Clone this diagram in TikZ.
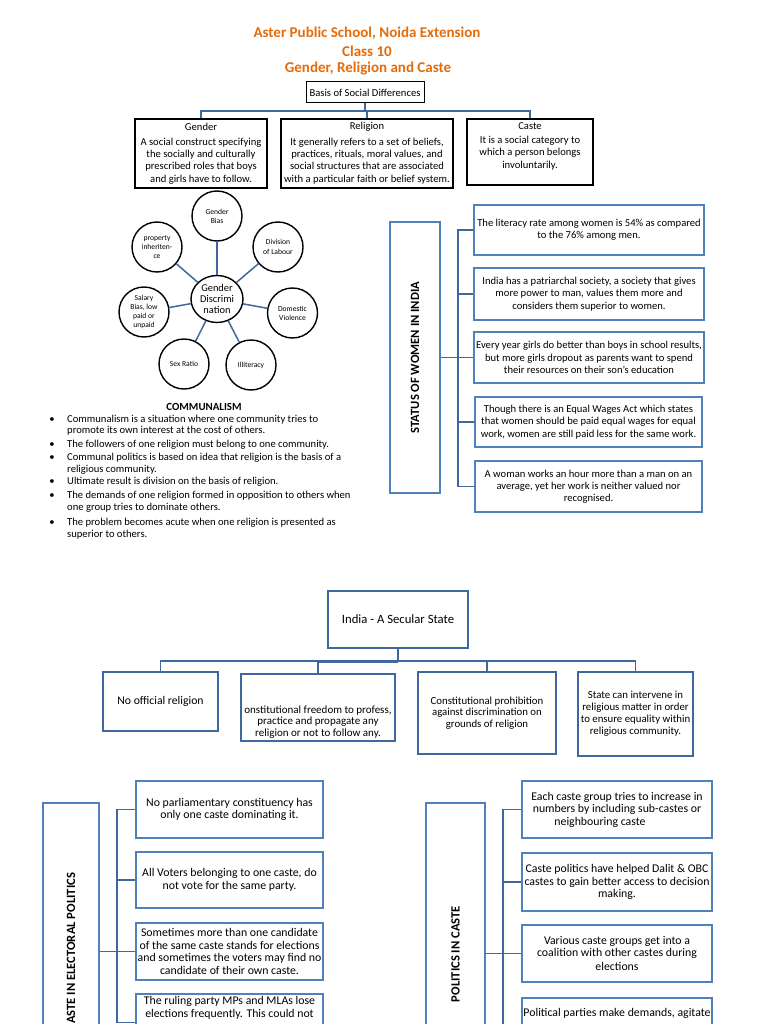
\documentclass[tikz,border=0pt]{standalone}
\usepackage{fontspec}
\setmainfont{Carlito}
\usetikzlibrary{shapes.geometric}
\definecolor{ttl}{RGB}{228,108,10}
\definecolor{bxb}{RGB}{79,129,189}
\definecolor{lnb}{RGB}{64,104,158}
\tikzset{
 ttlstyle/.style={font=\bfseries\fontsize{15}{18}\selectfont, text=ttl, inner sep=0pt},
 tx/.style={font=\fontsize{10.6}{12.2}\selectfont, align=center, inner sep=0pt},
 tbig/.style={font=\fontsize{11.8}{12.5}\selectfont, align=center, inner sep=0pt},
 blackbox/.style={draw=black, line width=1.6pt, inner sep=0pt, rectangle},
 bluebox/.style={draw=bxb, line width=1.6pt, inner sep=0pt, rectangle, align=center},
 darkbox/.style={draw=lnb, line width=1.6pt, inner sep=0pt, rectangle, align=center},
 conn/.style={draw=lnb, line width=1.5pt},
 circ/.style={circle, draw=black, line width=1.4pt, minimum size=50pt, inner sep=0pt, align=center, font=\fontsize{7.6}{9.2}\selectfont},
 vtitle/.style={rotate=90, font=\bfseries\fontsize{12.6}{14}\selectfont, inner sep=0pt},
 cline/.style={anchor=base west, font=\fontsize{10.6}{12.2}\selectfont, inner sep=0pt},
 bul/.style={anchor=base, font=\fontsize{10.6}{12.2}\selectfont, inner sep=0pt},
}
\begin{document}
\begin{tikzpicture}[x=1pt,y=-1pt]
\useasboundingbox (0,0) rectangle (768,1024);
\clip (0,0) rectangle (768,1024);
\fill[white] (0,0) rectangle (768,1024);

% titles
\node[ttlstyle] (t1) at (367,33) {Aster Public School, Noida Extension};
\node[ttlstyle] (t2) at (367,51) {Class 10};
\node[ttlstyle] (t3) at (368,69) {Gender, Religion and Caste};

% basis
\node[blackbox, line width=1pt, minimum width=118pt, minimum height=21pt, tx] (basis) at (365,92.5) {Basis of Social Differences};
\node[blackbox, minimum width=132pt, minimum height=69pt] (gbox) at (201,153.5) {};
\node[blackbox, minimum width=172pt, minimum height=69pt] (rbox) at (367,153.5) {};
\node[blackbox, minimum width=126pt, minimum height=66pt] (cbox) at (530,152) {};
\node[tx] (gboxh) at (201,127) {Gender};
\node[tx] (gboxt) at (201,161) {A social construct specifying\\the socially and culturally\\prescribed roles that boys\\and girls have to follow.};
\node[tx] (rboxh) at (367,127) {Religion};
\node[tx] (rboxt) at (367,161) {It generally refers to a set of beliefs,\\practices, rituals, moral values, and\\social structures that are associated\\with a particular faith or belief system.};
\node[tx] (cboxh) at (530,126) {Caste};
\node[tx] (cboxt) at (530,153) {It is a social category to\\which a person belongs\\involuntarily.};
\coordinate (hb) at (365,111);
\draw[conn] (basis.south) -- (basis.south |- hb);
\draw[conn] (gbox.north) |- (cbox.north |- hb) -- (cbox.north);
\draw[conn] (rbox.north) -- (rbox.north |- hb);

% gender discrimination
\node[circ, ellipse, minimum width=52pt, minimum height=47pt, font=\fontsize{10.4}{11.3}\selectfont] (gd) at (217,299) {Gender\\Discrimi\\nation};
\node[circ] (gb) at (217,216) {Gender\\Bias};
\node[circ] (dl) at (278,247) {Division\\of Labour};
\node[circ] (dv) at (292.5,313) {Domestic\\Violence};
\node[circ] (il) at (251,365) {Illiteracy};
\node[circ] (sr) at (184,364) {Sex Ratio};
\node[circ] (sb) at (144,312) {Salary\\Bias, low\\paid or\\unpaid};
\node[circ] (pi) at (157,247) {property\\inheriten-\\ce};
\foreach \n in {gb,dl,dv,il,sr,sb,pi} \draw[conn] (gd) -- (\n);

% communalism
\node[font=\bfseries\fontsize{10.9}{13}\selectfont, inner sep=0pt] (ch) at (204,407) {COMMUNALISM};
\node[bul] (b1) at (52,422.6) {\textbullet};
\node[cline] (l1) at (67,422.6) {Communalism is a situation where one community tries to};
\node[cline] (l2) at (67,433.3) {promote its own interest at the cost of others.};
\node[bul] (b2) at (52,447.6) {\textbullet};
\node[cline] (l3) at (67,447.6) {The followers of one religion must belong to one community.};
\node[bul] (b3) at (52,460.9) {\textbullet};
\node[cline] (l4) at (67,460.9) {Communal politics is based on idea that religion is the basis of a};
\node[cline] (l5) at (67,472.6) {religious community.};
\node[bul] (b4) at (52,484.9) {\textbullet};
\node[cline] (l6) at (67,484.9) {Ultimate result is division on the basis of religion.};
\node[bul] (b5) at (52,498.6) {\textbullet};
\node[cline] (l7) at (67,498.6) {The demands of one religion formed in opposition to others when};
\node[cline] (l8) at (67,510.9) {one group tries to dominate others.};
\node[bul] (b6) at (52,525.3) {\textbullet};
\node[cline] (l9) at (67,525.3) {The problem becomes acute when one religion is presented as};
\node[cline] (l10) at (67,537.6) {superior to others.};

% status of women
\node[bluebox, minimum width=50pt, minimum height=271pt] (sw) at (415,357.5) {};
\node[vtitle] (swt) at (415,357.5) {STATUS OF WOMEN IN INDIA};
\coordinate (xs) at (458,0);
\node[bluebox, tx, minimum width=230pt, minimum height=50pt] (s1) at (589,230) {The literacy rate among women is 54\% as compared\\to the 76\% among men.};
\node[bluebox, tx, minimum width=230pt, minimum height=52pt] (s2) at (589,294) {India has a patriarchal society, a society that gives\\more power to man, values them more and\\considers them superior to women.};
\node[bluebox, tx, minimum width=230pt, minimum height=51pt] (s3) at (589,357.5) {Every year girls do better than boys in school results,\\but more girls dropout as parents want to spend\\their resources on their son's education};
\node[bluebox, tx, minimum width=227pt, minimum height=50pt] (s4) at (588.5,422) {Though there is an Equal Wages Act which states\\that women should be paid equal wages for equal\\work, women are still paid less for the same work.};
\node[bluebox, tx, minimum width=227pt, minimum height=51pt] (s5) at (588.5,486.5) {A woman works an hour more than a man on an\\average, yet her work is neither valued nor\\recognised.};
\draw[conn] (sw.east) -- (sw.east -| xs);
\draw[conn] (s1.west) -| (xs |- s5.west) -- (s5.west);
\draw[conn] (s2.west) -- (s2.west -| xs);
\draw[conn] (s3.west) -- (s3.west -| xs);
\draw[conn] (s4.west) -- (s4.west -| xs);

% secular state
\node[darkbox, minimum width=140pt, minimum height=57pt, font=\fontsize{12.7}{15}\selectfont] (ind) at (398,619.5) {India - A Secular State};
\node[darkbox, minimum width=115pt, minimum height=59pt, font=\fontsize{11.7}{13}\selectfont] (c1) at (160.5,701.5) {No official religion};
\node[darkbox, minimum width=154pt, minimum height=67pt] (c2) at (318,707.5) {};
\node[tx, font=\fontsize{11}{11.7}\selectfont] (c2t) at (318,722) {onstitutional freedom to profess,\\practice and propagate any\\religion or not to follow any.};
\node[darkbox, tx, font=\fontsize{10.8}{11.7}\selectfont, minimum width=138pt, minimum height=82pt] (c3) at (487,713) {Constitutional prohibition\\against discrimination on\\grounds of religion};
\node[darkbox, tx, font=\fontsize{10.8}{12}\selectfont, minimum width=115pt, minimum height=84pt] (c4) at (635.5,714) {State can intervene in\\religious matter in order\\to ensure equality within\\religious community.};
\coordinate (hs) at (0,661);
\draw[conn] (ind.south) -- (ind.south |- hs);
\draw[conn] (c1.north) |- (c4.north |- hs) -- (c4.north);
\draw[conn] (c2.north) -- (c2.north |- hs);
\draw[conn] (c3.north) -- (c3.north |- hs);
\draw[conn, line width=2.8pt] (c2.north |- 0,662) -- (ind.south |- 0,662);

% caste in electoral politics
\node[bluebox, minimum width=56pt, minimum height=300pt, anchor=north] (ev) at (71,802) {};
\node[vtitle, anchor=west] (evt) at (71,1024) {ASTE IN ELECTORAL POLITICS};
\coordinate (xe) at (117,0);
\node[bluebox, tbig, minimum width=187pt, minimum height=57pt] (e1) at (229.5,809.5) {No parliamentary constituency has\\only one caste dominating it.};
\node[bluebox, tbig, minimum width=187pt, minimum height=56pt] (e2) at (229.5,880) {All Voters belonging to one caste, do\\not vote for the same party.};
\node[bluebox, tbig, minimum width=187pt, minimum height=57pt] (e3) at (229.5,951.5) {Sometimes more than one candidate\\of the same caste stands for elections\\and sometimes the voters may find no\\candidate of their own caste.};
\node[bluebox, minimum width=187pt, minimum height=57pt] (e4) at (229.5,1022.5) {};
\node[tbig] (e4t) at (229.5,1008) {The ruling party MPs and MLAs lose\\elections frequently. This could not};
\draw[conn] (e3.west -| ev.east) -- (e3.west -| xe);
\draw[conn] (e1.west) -| (xe |- e4.west) -- (e4.west);
\draw[conn] (e2.west) -- (e2.west -| xe);
\draw[conn] (e3.west) -- (e3.west -| xe);

% politics in caste
\node[bluebox, minimum width=59pt, minimum height=300pt, anchor=north] (pv) at (455.5,802) {};
\node[vtitle] (pvt) at (455.5,954) {POLITICS IN CASTE};
\coordinate (xp) at (503,0);
\node[bluebox, tbig, minimum width=190pt, minimum height=57pt] (p1) at (617,809.5) {Each caste group tries to increase in\\numbers by including sub-castes or\\neighbouring caste\hspace*{34pt}};
\node[bluebox, tbig, minimum width=190pt, minimum height=58pt] (p2) at (617,882) {Caste politics have helped Dalit \& OBC\\castes to gain better access to decision\\making.};
\node[bluebox, tbig, minimum width=190pt, minimum height=57pt] (p3) at (617,953.5) {Various caste groups get into a\\coalition with other castes during\\[1.5pt]elections};
\node[bluebox, minimum width=190pt, minimum height=57pt] (p4) at (617,1026.5) {};
\node[tbig] (p4t) at (617,1013) {Political parties make demands, agitate};
\draw[conn] (p3.west -| pv.east) -- (p3.west -| xp);
\draw[conn] (p1.west) -| (xp |- p4.west) -- (p4.west);
\draw[conn] (p2.west) -- (p2.west -| xp);
\draw[conn] (p3.west) -- (p3.west -| xp);
\end{tikzpicture}
\end{document}
